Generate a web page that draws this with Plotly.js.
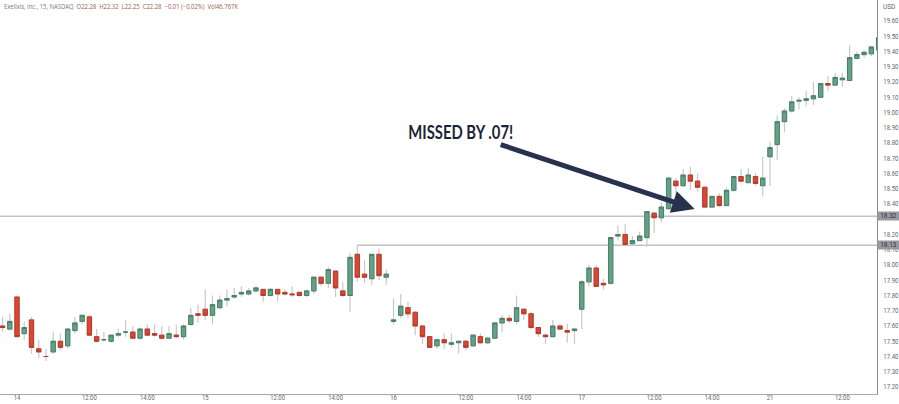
<!DOCTYPE html>
<html><head><meta charset="utf-8">
<script src="https://cdn.plot.ly/plotly-3.0.1.min.js"></script>
<style>html,body{margin:0;padding:0;background:#fff;overflow:hidden}#c{width:899px;height:404px}</style>
</head><body><div id="c"></div>
<script>
const opens=[17.60,17.58,17.79,17.55,17.64,17.45,17.40,17.43,17.50,17.47,17.57,17.63,17.66,17.53,17.51,17.50,17.54,17.56,17.56,17.52,17.58,17.55,17.54,17.52,17.54,17.53,17.61,17.68,17.71,17.67,17.72,17.77,17.79,17.81,17.81,17.83,17.84,17.80,17.84,17.82,17.81,17.82,17.80,17.83,17.92,17.88,17.96,17.83,17.80,18.07,17.94,17.91,18.07,17.92,17.63,17.67,17.72,17.69,17.60,17.53,17.47,17.51,17.48,17.49,17.50,17.47,17.53,17.49,17.52,17.62,17.65,17.63,17.71,17.68,17.59,17.54,17.53,17.60,17.57,17.57,17.71,17.89,17.98,17.88,17.88,18.19,18.20,18.14,18.16,18.18,18.34,18.31,18.37,18.55,18.52,18.59,18.55,18.51,18.38,18.45,18.39,18.49,18.58,18.54,18.58,18.52,18.71,18.79,18.94,19.01,19.075,19.08,19.09,19.10,19.19,19.18,19.215,19.21,19.355,19.38,19.385,19.41];
const highs=[17.66,17.68,17.80,17.63,17.66,17.51,17.45,17.56,17.55,17.58,17.66,17.67,17.67,17.58,17.56,17.54,17.58,17.64,17.60,17.59,17.61,17.61,17.60,17.60,17.61,17.61,17.72,17.74,17.84,17.80,17.80,17.84,17.85,17.86,17.85,17.86,17.84,17.85,17.845,17.84,17.86,17.83,17.84,17.92,17.92,17.99,17.96,17.89,18.08,18.13,18.03,18.07,18.11,17.97,17.78,17.81,17.76,17.70,17.605,17.53,17.51,17.55,17.55,17.50,17.51,17.54,17.55,17.53,17.62,17.67,17.67,17.80,17.71,17.69,17.59,17.55,17.64,17.615,17.615,17.59,17.90,18.00,18.00,17.91,18.18,18.26,18.27,18.19,18.22,18.35,18.345,18.41,18.57,18.57,18.63,18.645,18.60,18.51,18.45,18.47,18.51,18.58,18.63,18.635,18.605,18.71,18.81,18.98,19.03,19.11,19.10,19.14,19.20,19.19,19.24,19.26,19.26,19.44,19.40,19.41,19.43,19.50];
const lows=[17.56,17.57,17.53,17.51,17.42,17.39,17.37,17.42,17.44,17.45,17.55,17.61,17.54,17.49,17.50,17.49,17.53,17.53,17.52,17.51,17.54,17.53,17.51,17.52,17.52,17.51,17.60,17.62,17.64,17.61,17.71,17.73,17.78,17.79,17.80,17.82,17.76,17.79,17.76,17.80,17.79,17.79,17.79,17.81,17.86,17.85,17.79,17.79,17.69,17.89,17.88,17.87,17.90,17.87,17.61,17.65,17.65,17.54,17.48,17.46,17.45,17.45,17.46,17.42,17.44,17.46,17.48,17.48,17.52,17.56,17.62,17.61,17.64,17.58,17.53,17.48,17.525,17.57,17.49,17.48,17.58,17.86,17.86,17.84,17.87,18.16,18.13,18.125,18.16,18.12,18.21,18.28,18.36,18.46,18.51,18.49,18.48,18.375,18.375,18.38,18.385,18.48,18.545,18.54,18.52,18.45,18.52,18.69,18.87,19.00,19.02,19.04,19.05,19.095,19.14,19.17,19.17,19.205,19.35,19.36,19.37,19.40];
const closes=[17.59,17.63,17.53,17.59,17.46,17.43,17.40,17.50,17.46,17.58,17.62,17.67,17.54,17.50,17.51,17.54,17.55,17.56,17.52,17.58,17.54,17.54,17.52,17.55,17.53,17.60,17.67,17.67,17.67,17.74,17.77,17.78,17.80,17.82,17.83,17.85,17.80,17.84,17.81,17.81,17.805,17.80,17.83,17.92,17.88,17.97,17.85,17.80,18.05,17.92,17.92,18.07,17.93,17.94,17.64,17.73,17.68,17.60,17.53,17.46,17.51,17.49,17.49,17.50,17.46,17.54,17.49,17.52,17.62,17.65,17.635,17.72,17.68,17.59,17.55,17.53,17.60,17.58,17.56,17.58,17.89,17.98,17.86,17.87,18.18,18.20,18.135,18.16,18.19,18.35,18.31,18.38,18.57,18.52,18.59,18.55,18.51,18.38,18.45,18.39,18.49,18.58,18.55,18.59,18.535,18.57,18.77,18.94,19.01,19.07,19.08,19.09,19.11,19.19,19.18,19.23,19.225,19.36,19.38,19.395,19.43,19.49];
const firstBar=-2;
const barIndex=opens.map((_,i)=>firstBar+i);
const xTickBars=[0,10,18,26,36,44,52,62,70,78,88,96,104,114];
const xTickText=["14","12:00","14:00","15","12:00","14:00","16","12:00","14:00","17","12:00","14:00","21","12:00"];
const yTickVals=[17.2,17.3,17.4,17.5,17.6,17.7,17.8,17.9,18.0,18.1,18.2,18.4,18.5,18.6,18.7,18.8,18.9,19.0,19.1,19.2,19.3,19.4,19.5,19.6];
const levelA=18.32, levelB=18.13;
const levelBStartBar=47;
const headerName="Exelixis, Inc., 15, NASDAQ";
const headerValues="O22.28  H22.32  L22.25  C22.28  −0.01 (−0.02%)  Vol46.767K";
const callout="MISSED BY .07!";

const UI="Roboto,'Open Sans',sans-serif";
const wicks={type:'candlestick',x:barIndex,open:opens,high:highs,low:lows,close:closes,whiskerwidth:0,
  increasing:{line:{color:'#c8c8c8',width:1.2},fillcolor:'rgba(0,0,0,0)'},
  decreasing:{line:{color:'#c8c8c8',width:1.2},fillcolor:'rgba(0,0,0,0)'},hoverinfo:'skip'};
const bodies={type:'candlestick',x:barIndex,open:opens,close:closes,
  high:opens.map((o,i)=>Math.max(o,closes[i])),low:opens.map((o,i)=>Math.min(o,closes[i])),whiskerwidth:0,
  increasing:{line:{color:'#47806a',width:1},fillcolor:'#64a285'},
  decreasing:{line:{color:'#b53a2a',width:1},fillcolor:'#dc4732'},hoverinfo:'skip'};

const layout={width:899,height:404,margin:{l:0,r:22,t:0,b:10},paper_bgcolor:'#fff',plot_bgcolor:'#fff',
  showlegend:false,boxmode:'overlay',boxgap:0.15,
  xaxis:{type:'linear',range:[-2.348,118.78],tickmode:'array',tickvals:xTickBars,ticktext:xTickText,
    showgrid:false,zeroline:false,showline:true,linecolor:'#a8a8a8',linewidth:1,ticks:'',ticklabelstandoff:-3,
    rangeslider:{visible:false},tickfont:{family:UI,size:7,color:'#666'},fixedrange:true},
  yaxis:{range:[17.154,19.738],side:'right',tickmode:'array',tickvals:yTickVals,ticktext:yTickVals.map(v=>v.toFixed(2)),
    showgrid:false,zeroline:false,showline:true,linecolor:'#8c8c8c',linewidth:1,ticks:'outside',ticklen:4,tickcolor:'rgba(0,0,0,0)',
    tickfont:{family:UI,size:6.5,color:'#666'},fixedrange:true},
  shapes:[
    {type:'line',xref:'paper',x0:0,x1:1,yref:'y',y0:levelA,y1:levelA,line:{color:'#c2c2c2',width:1.4},layer:'below'},
    {type:'line',xref:'x',x0:levelBStartBar,x1:118.78,yref:'y',y0:levelB,y1:levelB,line:{color:'#c2c2c2',width:1.4},layer:'below'}
  ],
  annotations:[
    {xref:'paper',yref:'paper',x:0.002,y:0.9995,xanchor:'left',yanchor:'top',showarrow:false,align:'left',
     text:`<span style="color:#7a7a7a">${headerName}</span>  <span style="color:#9a5a52">${headerValues}</span>`,
     font:{family:"'Open Sans',sans-serif",size:6.5,color:'#777'}},
    {xref:'paper',yref:'paper',x:1.005,y:0.998,xanchor:'left',yanchor:'top',showarrow:false,text:'USD',font:{family:UI,size:6.5,color:'#666'}},
    {xref:'paper',yref:'y',x:1,y:levelA,xanchor:'left',yanchor:'middle',showarrow:false,text:'18.32',
     bgcolor:'#989aa3',borderpad:0,width:21,height:8,font:{family:UI,size:6.5,color:'#333'}},
    {xref:'paper',yref:'y',x:1,y:levelB,xanchor:'left',yanchor:'middle',showarrow:false,text:'18.13',
     bgcolor:'#989aa3',borderpad:0,width:21,height:8,font:{family:UI,size:6.5,color:'#333'}},
    {xref:'x',yref:'y',x:61.26,y:18.875,xanchor:'center',yanchor:'middle',showarrow:false,text:callout,
     font:{family:'Lato',size:18,weight:700,color:'#1b2436'}},
    {xref:'x',yref:'y',axref:'x',ayref:'y',x:93.6,y:18.367,ax:66.6,ay:18.793,showarrow:true,arrowhead:2,arrowsize:0.9,arrowwidth:5,arrowcolor:'#27324d',text:''}
  ]};
function fit(el,w){el.setAttribute('lengthAdjust','spacingAndGlyphs');el.setAttribute('textLength',w);}
Plotly.newPlot('c',[wicks,bodies],layout,{displayModeBar:false,staticPlot:true}).then(gd=>{
  gd.querySelectorAll('.xtick text').forEach(t=>fit(t,t.getComputedTextLength()*0.85));
  gd.querySelectorAll('.ytick text').forEach(t=>fit(t,t.getComputedTextLength()*0.93));
  gd.querySelectorAll('.annotation-text').forEach(t=>{
    const s=t.textContent;
    if(s===callout) fit(t,105);
    else if(s.indexOf(headerName)===0) fit(t,234);
  });
});
</script></body></html>
